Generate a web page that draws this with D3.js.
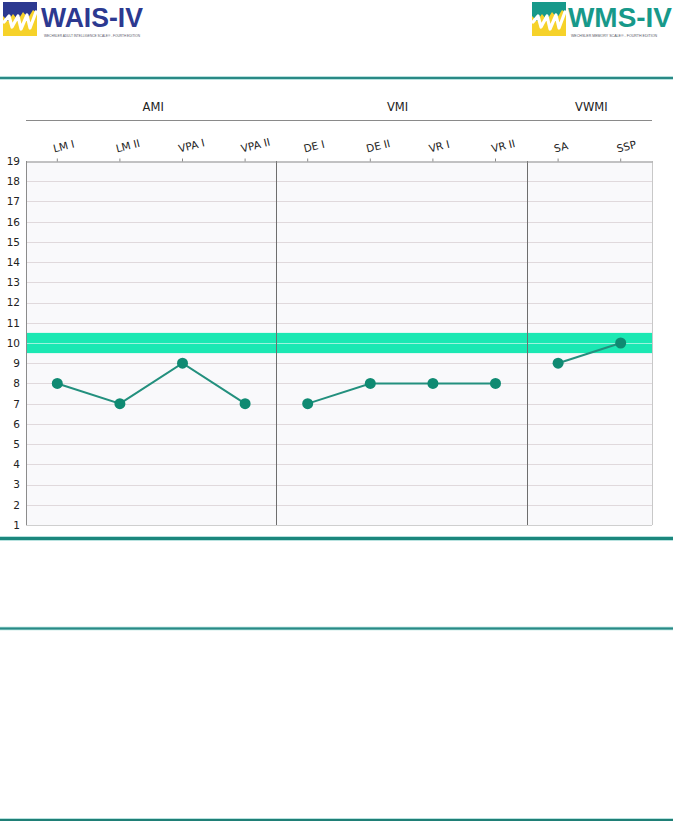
<!DOCTYPE html>
<html>
<head>
<meta charset="utf-8">
<script src="https://cdn.jsdelivr.net/npm/d3@7"></script>
<style>
  html, body { margin: 0; padding: 0; background: #ffffff; }
  svg { display: block; }
</style>
</head>
<body>
<svg id="chart" width="676" height="821"></svg>
<script>
// ---- data ----
const categories = ["LM I", "LM II", "VPA I", "VPA II", "DE I", "DE II", "VR I", "VR II", "SA", "SSP"];
const categoryGroups = ["AMI", "AMI", "AMI", "AMI", "VMI", "VMI", "VMI", "VMI", "VWMI", "VWMI"];
const indexNames = ["AMI", "VMI", "VWMI"];
const scaledScores = [8, 7, 9, 7, 7, 8, 8, 8, 9, 10];
const yTickValues = [1, 2, 3, 4, 5, 6, 7, 8, 9, 10, 11, 12, 13, 14, 15, 16, 17, 18, 19];
const averageBand = [9.5, 10.5];

// ---- layout ----
const svg = d3.select("#chart");
const plot = { left: 26, right: 652, top: 161, bottom: 525 };
const FONT = "'DejaVu Sans', Verdana, sans-serif";

const x = d3.scaleBand().domain(categories).range([plot.left, plot.right]).padding(0);
const y = d3.scaleLinear().domain([1, 19]).range([plot.bottom, plot.top]);
const cx = d => x(d) + x.bandwidth() / 2;

// ---- logos ----
function logo(g, opts) {
  const icon = g.append("g").attr("transform", `translate(${opts.ix},${opts.iy})`);
  icon.append("rect").attr("width", 34).attr("height", 34).attr("fill", "#f6d22a");
  icon.append("path")
    .attr("d", "M0,0 H34 V11 L30,8 L25,16 L20,10 L15,18 L10,12 L5,19 L0,14 Z")
    .attr("fill", opts.color);
  icon.append("path")
    .attr("d", "M1,20 L6,14 L9,25 L15,14 L18,27 L24,13 L27,26 L33,10")
    .attr("fill", "none").attr("stroke", "#ffffff").attr("stroke-width", 3.2)
    .attr("stroke-linejoin", "round").attr("stroke-linecap", "round");
  g.append("text")
    .attr("x", opts.tx).attr("y", 27)
    .attr("font-family", "'Liberation Sans', Arial, sans-serif")
    .attr("font-weight", "bold").attr("font-size", 28)
    .attr("textLength", opts.tw).attr("lengthAdjust", "spacingAndGlyphs")
    .attr("fill", opts.color).text(opts.title);
  g.append("text")
    .attr("x", opts.tx + 3).attr("y", 37)
    .attr("font-family", "'Liberation Sans', Arial, sans-serif")
    .attr("font-size", 3.6).attr("textLength", opts.sw).attr("lengthAdjust", "spacingAndGlyphs")
    .attr("fill", "#556").text(opts.sub);
}
logo(svg.append("g"), { ix: 3, iy: 2, tx: 41, tw: 102, sw: 96, color: "#2c3990",
  title: "WAIS-IV", sub: "WECHSLER ADULT INTELLIGENCE SCALE® - FOURTH EDITION" });
logo(svg.append("g"), { ix: 532, iy: 2, tx: 568, tw: 104, sw: 86, color: "#17998a",
  title: "WMS-IV", sub: "WECHSLER MEMORY SCALE® - FOURTH EDITION" });

// ---- horizontal rules ----
function rule(yy, w, col) {
  svg.append("line").attr("x1", 0).attr("x2", 673).attr("y1", yy).attr("y2", yy)
    .attr("stroke", "#9fd9d4").attr("stroke-width", w + 1.5);
  svg.append("line").attr("x1", 0).attr("x2", 673).attr("y1", yy).attr("y2", yy)
    .attr("stroke", col).attr("stroke-width", w);
}
rule(78, 2, "#2a8985");
rule(538.5, 3, "#1b877d");
rule(628.5, 2, "#2a8985");
rule(820, 2, "#1f7f76");

// ---- index header ----
const groupExtent = indexNames.map(n => {
  const cs = categories.filter((c, i) => categoryGroups[i] === n);
  return { name: n, x0: x(cs[0]), x1: x(cs[cs.length - 1]) + x.bandwidth() };
});
svg.append("line").attr("x1", plot.left).attr("x2", plot.right).attr("y1", 120.5).attr("y2", 120.5)
  .attr("stroke", "#8a8a8a").attr("stroke-width", 1);
svg.selectAll("text.idx").data(groupExtent).join("text")
  .attr("class", "idx")
  .attr("x", d => (d.x0 + d.x1) / 2 + (d.name === "VMI" ? -4 : 2))
  .attr("y", 111)
  .attr("text-anchor", "middle")
  .attr("font-family", FONT).attr("font-size", 11.5).attr("fill", "#222")
  .text(d => d.name);

// ---- plot background & grid ----
svg.append("rect").attr("x", plot.left).attr("y", plot.top)
  .attr("width", plot.right - plot.left).attr("height", plot.bottom - plot.top)
  .attr("fill", "#f9f9fb");

svg.append("rect")
  .attr("x", plot.left).attr("width", plot.right - plot.left)
  .attr("y", y(averageBand[1])).attr("height", y(averageBand[0]) - y(averageBand[1]))
  .attr("fill", "#1be8b3");

svg.selectAll("line.grid").data(yTickValues.filter(v => v > 1 && v < 19)).join("line")
  .attr("class", "grid")
  .attr("x1", plot.left).attr("x2", plot.right)
  .attr("y1", d => Math.round(y(d)) + 0.5).attr("y2", d => Math.round(y(d)) + 0.5)
  .attr("stroke", d => (d >= averageBand[0] && d <= averageBand[1]) ? "#9df4dd" : "#e0d9dc")
  .attr("stroke-width", 1);

// borders
svg.append("line").attr("x1", plot.right + 0.5).attr("x2", plot.right + 0.5)
  .attr("y1", plot.top).attr("y2", plot.bottom).attr("stroke", "#c8c8c8");
svg.append("line").attr("x1", plot.left).attr("x2", plot.right)
  .attr("y1", plot.bottom + 0.5).attr("y2", plot.bottom + 0.5).attr("stroke", "#cfcfcf");
svg.append("line").attr("x1", plot.left + 0.5).attr("x2", plot.left + 0.5)
  .attr("y1", plot.top).attr("y2", plot.bottom).attr("stroke", "#8c8c8c");

// group dividers
svg.selectAll("line.div").data(groupExtent.slice(1)).join("line")
  .attr("class", "div")
  .attr("x1", d => Math.round(d.x0) + 0.5).attr("x2", d => Math.round(d.x0) + 0.5)
  .attr("y1", plot.top).attr("y2", plot.bottom)
  .attr("stroke", "#6e6e6e").attr("stroke-width", 1);

// ---- axes ----
const xAxis = svg.append("g").attr("transform", `translate(0,${plot.top + 0.5})`)
  .call(d3.axisTop(x).tickSize(3).tickSizeOuter(0));
xAxis.select(".domain").attr("stroke", "#8a8a8a");
xAxis.selectAll(".tick line").attr("stroke", "#8a8a8a");
xAxis.selectAll(".tick text")
  .attr("font-family", FONT).attr("font-size", 10.5).attr("fill", "#222")
  .attr("text-anchor", "start")
  .attr("x", -3).attr("y", -9).attr("dy", 0)
  .attr("transform", "rotate(-14,-3,-9)");

const yAxis = svg.append("g").attr("transform", `translate(${plot.left},0)`)
  .call(d3.axisLeft(y).tickValues(yTickValues).tickSize(0).tickFormat(d3.format("d")));
yAxis.select(".domain").remove();
yAxis.selectAll(".tick text")
  .attr("font-family", FONT).attr("font-size", 10.5).attr("fill", "#222")
  .attr("x", -6);

// ---- series ----
const points = categories.map((c, i) => ({ cat: c, group: categoryGroups[i], v: scaledScores[i] }));
const line = d3.line().x(d => cx(d.cat)).y(d => y(d.v));
svg.selectAll("path.series").data(indexNames.map(n => points.filter(p => p.group === n))).join("path")
  .attr("class", "series")
  .attr("d", line)
  .attr("fill", "none").attr("stroke", "#23907e").attr("stroke-width", 2);
svg.selectAll("circle.pt").data(points).join("circle")
  .attr("class", "pt")
  .attr("cx", d => cx(d.cat)).attr("cy", d => y(d.v)).attr("r", 5.5)
  .attr("fill", "#0f8a72");
</script>
</body>
</html>
